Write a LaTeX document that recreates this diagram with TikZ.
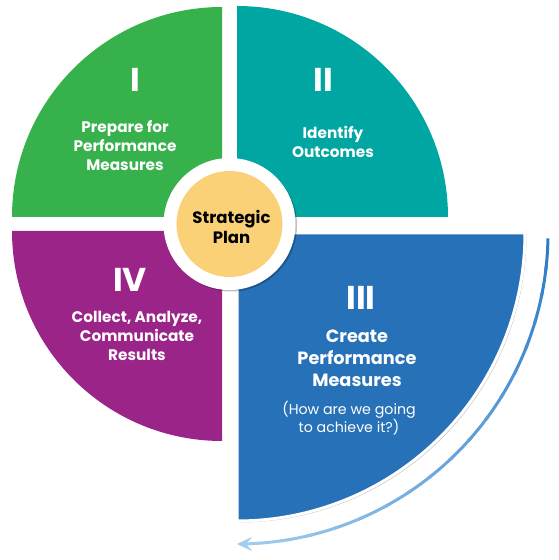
\documentclass[tikz,border=0pt]{standalone}
\usepackage{fontspec}
\setmainfont{Poppins}
\usetikzlibrary{positioning, calc, arrows.meta, shadows}

\definecolor{quadgreen}{HTML}{36B14B}
\definecolor{quadteal}{HTML}{00A7A2}
\definecolor{quadpurple}{HTML}{9B2488}
\definecolor{quadblue}{HTML}{2771B8}
\definecolor{planyellow}{HTML}{FAD176}
\definecolor{arcdark}{HTML}{2C7CC6}
\definecolor{arcpale}{HTML}{A3CCEE}

\begin{document}
\begin{tikzpicture}[x=1pt, y=1pt,
    numeral/.style={text=white, font=\bfseries\fontsize{33}{33}\selectfont},
    steptext/.style={text=white, align=center, font=\bfseries\fontsize{15.3}{19}\selectfont},
    bigtext/.style={text=white, align=center, font=\bfseries\fontsize{17.7}{22}\selectfont},
    subtext/.style={text=white, align=center, font=\fontsize{14.2}{18}\selectfont},
    softshadow/.style={drop shadow={shadow xshift=1.5pt, shadow yshift=-1.5pt, opacity=0.25, fill=black}}]
  \useasboundingbox (0,0) rectangle (559,560);

  \coordinate (G) at (222,343);
  \fill[quadgreen] (G) -- ++(0,210) arc (90:180:210) -- cycle;

  \coordinate (T) at (237,343);
  \fill[quadteal] (T) -- ++(211,0) arc (0:90:211) -- cycle;

  \coordinate (P) at (222,329);
  \fill[quadpurple] (P) -- ++(-210,0) arc (180:270:210) -- cycle;

  \coordinate (B) at (237,327);
  \filldraw[quadblue, draw=white, line width=3pt, softshadow] (B) -- ++(0,-288) arc (270:360:288) -- cycle;

  \foreach \i [evaluate=\i as \p using {int(100-100*\i/17)}] in {0,...,16}
    \draw[arcdark!\p!arcpale, line width=3pt] ([shift={(-1-5*\i:311)}]B) arc (-1-5*\i:-7-5*\i:311);
  \draw[arcpale, line width=3pt, -{Stealth[length=15pt, width=14pt, inset=6pt]}] ([shift={(-86:311)}]B) arc (-86:-90:311);

  \coordinate (C) at (229.5,336);
  \fill[white, softshadow] (C) circle (66);
  \fill[planyellow] (C) circle (53);

  \node[numeral] (one) at (135,480) {I};
  \node[steptext] (prepare) at (125,414) {Prepare for\\Performance\\Measures};

  \node[numeral] (two) at (323,480) {II};
  \node[steptext] (identify) at (333,418.5) {Identify\\Outcomes};

  \node[numeral] (four) at (130,280) {IV};
  \node[steptext] (collect) at (137,224) {Collect, Analyze,\\Communicate\\Results};

  \node[numeral] (three) at (361,262) {III};
  \node[bigtext] (create) at (357,202) {Create\\Performance\\Measures};
  \node[subtext] (how) at (349,142) {(How are we going\\to achieve it?)};

  \node[align=center, font=\bfseries\fontsize{16.5}{20}\selectfont] (plan) at (231.5,333) {Strategic\\Plan};
\end{tikzpicture}
\end{document}
